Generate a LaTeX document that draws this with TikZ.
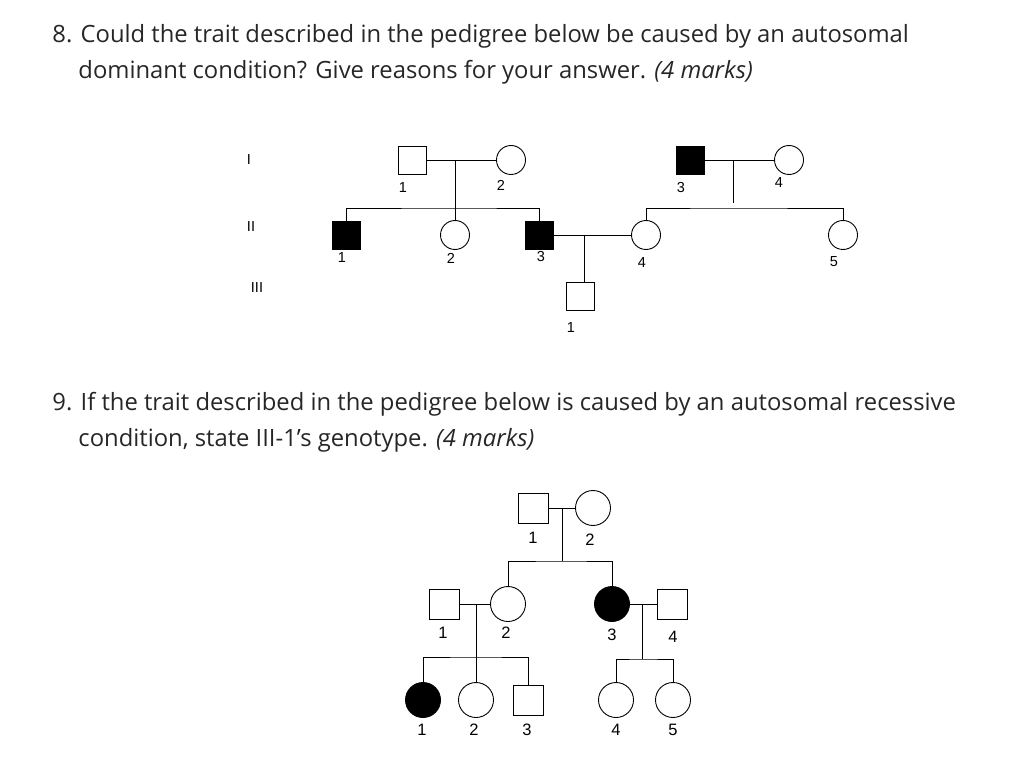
\documentclass[tikz,border=0pt]{standalone}
\usepackage{fontspec}
\setmainfont{Open Sans}
\newfontfamily\lab{Liberation Sans}
\begin{document}
\begin{tikzpicture}[x=1pt,y=-1pt,line width=0.9pt,
  q/.style={anchor=west,inner sep=0pt,font=\fontsize{23.8}{28}\selectfont,text=black!85},
  sqa/.style={draw,minimum size=28pt,inner sep=0pt},
  cia/.style={draw,circle,minimum size=29pt,inner sep=0pt},
  sqb/.style={draw,minimum size=30pt,inner sep=0pt},
  cib/.style={draw,circle,minimum size=35pt,inner sep=0pt},
  aff/.style={fill=black},
  la/.style={font=\lab\fontsize{14.5}{16}\selectfont,inner sep=0pt},
  lb/.style={font=\lab\fontsize{16.5}{18}\selectfont,inner sep=0pt},
  ln/.style={line width=0.8pt}]
\useasboundingbox (0,0) rectangle (1024,775);
\node[q] (t1) at (52,36) {8. Could the trait described in the pedigree below be caused by an autosomal};
\node[q] (t2) at (78,72) {dominant condition? Give reasons for your answer. \textit{(4 marks)}};
\node[q] (t3) at (52,404) {9. If the trait described in the pedigree below is caused by an autosomal recessive};
\node[q] (t4) at (78,440) {condition, state III-1's genotype. \textit{(4 marks)}};
% pedigree 1
\node[la] (g1) at (249,160) {I};
\node[la] (g2) at (251,227) {II};
\node[la] (g3) at (257,288) {III};
\node[sqa] (a11) at (412,160) {};
\node[cia] (a12) at (511,160) {};
\node[sqa,aff] (a13) at (690,160) {};
\node[cia] (a14) at (789,160) {};
\node[sqa,aff] (a21) at (346,235) {};
\node[cia] (a22) at (455,235) {};
\node[sqa,aff] (a23) at (539,235) {};
\node[cia] (a24) at (646,235) {};
\node[cia] (a25) at (843,235) {};
\node[sqa] (a31) at (580,296) {};
\draw[ln] (a11.east) -- (a12.west);
\coordinate (m1) at (455,160);
\draw[ln] (m1) -- (455,208);
\draw[ln] (a21.north) |- (455,208) -| (a23.north);
\draw[ln] (a22.north) -- (455,208);
\draw[ln] (a13.east) -- (a14.west);
\coordinate (m2) at (733,160);
\draw[ln] (m2) -- (733,203);
\draw[ln] (a24.north) |- (733,208) -| (a25.north);
\draw[ln] (a23.east) -- (a24.west);
\coordinate (m3) at (584,235);
\draw[ln] (m3) -- (a31.north-|m3);
\node[la] (n11) at (403,188) {1};
\node[la] (n12) at (501,185) {2};
\node[la] (n13) at (681,188) {3};
\node[la] (n14) at (779,183) {4};
\node[la] (n21) at (342,258) {1};
\node[la] (n22) at (451,258) {2};
\node[la] (n23) at (541,257) {3};
\node[la] (n24) at (642,263) {4};
\node[la] (n25) at (834,262) {5};
\node[la] (n31) at (571,328) {1};
% pedigree 2
\node[sqb] (b11) at (533,508) {};
\node[cib] (b12) at (593,508) {};
\node[sqb] (b21) at (444,604) {};
\node[cib] (b22) at (508,604) {};
\node[cib,aff] (b23) at (612,604) {};
\node[sqb] (b24) at (672,604) {};
\node[cib,aff] (b31) at (423,700) {};
\node[cib] (b32) at (476,700) {};
\node[sqb] (b33) at (528,700) {};
\node[cib] (b34) at (616,700) {};
\node[cib] (b35) at (673,700) {};
\draw[ln] (b11.east) -- (b12.west);
\coordinate (p1) at (562,508);
\draw[ln] (p1) -- (562,561);
\draw[ln] (b22.north) |- (562,561) -| (b23.north);
\draw[ln] (b21.east) -- (b22.west);
\coordinate (p2) at (476,604);
\draw[ln] (p2) -- (476,657);
\draw[ln] (b31.north) |- (476,657) -| (b33.north);
\draw[ln] (b32.north) -- (476,657);
\draw[ln] (b23.east) -- (b24.west);
\coordinate (p3) at (642,604);
\draw[ln] (p3) -- (642,659);
\draw[ln] (b34.north) |- (642,659) -| (b35.north);
\node[lb] (o11) at (533,538) {1};
\node[lb] (o12) at (590,540) {2};
\node[lb] (o21) at (443,633) {1};
\node[lb] (o22) at (506,633) {2};
\node[lb] (o23) at (612,635) {3};
\node[lb] (o24) at (673,637) {4};
\node[lb] (o31) at (422,730) {1};
\node[lb] (o32) at (474,730) {2};
\node[lb] (o33) at (527,730) {3};
\node[lb] (o34) at (616,730) {4};
\node[lb] (o35) at (673,730) {5};
\end{tikzpicture}
\end{document}
